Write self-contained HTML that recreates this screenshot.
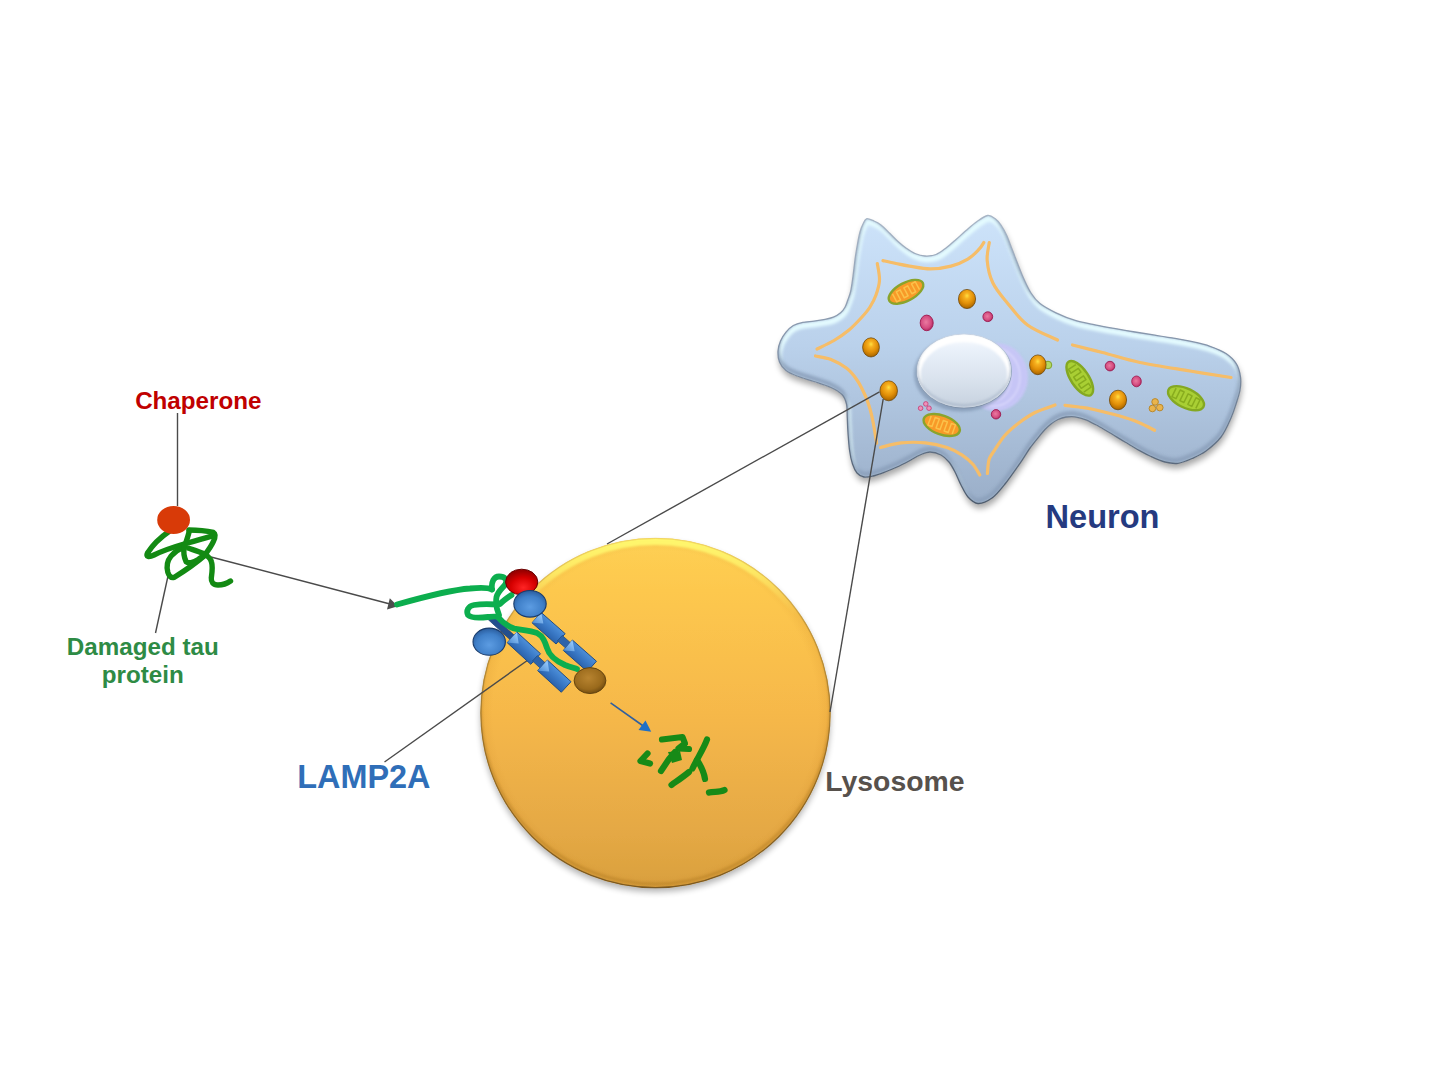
<!DOCTYPE html>
<html><head><meta charset="utf-8">
<style>
html,body{margin:0;padding:0;background:#fff;}
body{width:1440px;height:1080px;overflow:hidden;position:relative;}
svg{position:absolute;left:0;top:0;}
text{font-family:"Liberation Sans",sans-serif;font-weight:bold;}
</style></head><body>
<svg width="1440" height="1080" viewBox="0 0 1440 1080">
<defs>
<linearGradient id="lysoG" x1="0" y1="538" x2="0" y2="888" gradientUnits="userSpaceOnUse">
<stop offset="0" stop-color="#fed053"/>
<stop offset="0.15" stop-color="#fdc84e"/>
<stop offset="0.5" stop-color="#f6b84a"/>
<stop offset="0.85" stop-color="#e4a844"/>
<stop offset="1" stop-color="#d9a03e"/>
</linearGradient>
<linearGradient id="lysoRim" x1="0" y1="538" x2="0" y2="888" gradientUnits="userSpaceOnUse">
<stop offset="0" stop-color="#fff86e" stop-opacity="1"/>
<stop offset="0.1" stop-color="#fff46c" stop-opacity="0.75"/>
<stop offset="0.22" stop-color="#ffe870" stop-opacity="0"/>
<stop offset="1" stop-color="#ffe870" stop-opacity="0"/>
</linearGradient>
<linearGradient id="neuG" x1="0" y1="215" x2="0" y2="505" gradientUnits="userSpaceOnUse">
<stop offset="0" stop-color="#cde3fa"/>
<stop offset="0.45" stop-color="#bad1eb"/>
<stop offset="1" stop-color="#9aaec8"/>
</linearGradient>
<linearGradient id="nucG" x1="0" y1="0" x2="0" y2="1">
<stop offset="0" stop-color="#fbfdff"/>
<stop offset="0.2" stop-color="#eaf1fa"/>
<stop offset="0.6" stop-color="#dae3ee"/>
<stop offset="1" stop-color="#c6d1de"/>
</linearGradient>
<radialGradient id="gold" cx="0.48" cy="0.36" r="0.7" fx="0.5" fy="0.33">
<stop offset="0" stop-color="#ffe040"/>
<stop offset="0.22" stop-color="#f6b020"/>
<stop offset="0.55" stop-color="#e29008"/>
<stop offset="0.82" stop-color="#b87000"/>
<stop offset="1" stop-color="#764600"/>
</radialGradient>
<radialGradient id="pink" cx="0.45" cy="0.45" r="0.6">
<stop offset="0" stop-color="#ea7aa0"/>
<stop offset="0.65" stop-color="#d44c80"/>
<stop offset="1" stop-color="#a82058"/>
</radialGradient>
<radialGradient id="blueS" cx="0.5" cy="0.62" r="0.62">
<stop offset="0" stop-color="#5c9ce2"/>
<stop offset="0.65" stop-color="#3f7fc8"/>
<stop offset="1" stop-color="#2a5c9c"/>
</radialGradient>
<radialGradient id="redS" cx="0.55" cy="0.72" r="0.65">
<stop offset="0" stop-color="#ff2424"/>
<stop offset="0.6" stop-color="#d60000"/>
<stop offset="1" stop-color="#9a0000"/>
</radialGradient>
<radialGradient id="brownS" cx="0.45" cy="0.4" r="0.62">
<stop offset="0" stop-color="#b88430"/>
<stop offset="0.7" stop-color="#9a6a1c"/>
<stop offset="1" stop-color="#6e4a10"/>
</radialGradient>
<linearGradient id="rodG" x1="0" y1="0" x2="0" y2="1">
<stop offset="0" stop-color="#4a8ed6"/>
<stop offset="1" stop-color="#2f6cb6"/>
</linearGradient>
<filter id="shadowN" x="-10%" y="-10%" width="120%" height="130%">
<feGaussianBlur in="SourceAlpha" stdDeviation="3"/>
<feOffset dx="0.5" dy="4.5" result="o"/>
<feComponentTransfer><feFuncA type="linear" slope="0.35"/></feComponentTransfer>
<feMerge><feMergeNode/><feMergeNode in="SourceGraphic"/></feMerge>
</filter>
<filter id="shadowL" x="-10%" y="-10%" width="120%" height="130%">
<feGaussianBlur in="SourceAlpha" stdDeviation="3"/>
<feOffset dx="0" dy="4" result="o"/>
<feComponentTransfer><feFuncA type="linear" slope="0.3"/></feComponentTransfer>
<feMerge><feMergeNode/><feMergeNode in="SourceGraphic"/></feMerge>
</filter>
<radialGradient id="lysoEdge" cx="655.5" cy="713" r="175" gradientUnits="userSpaceOnUse">
<stop offset="0" stop-color="#c07818" stop-opacity="0"/>
<stop offset="0.93" stop-color="#c07818" stop-opacity="0"/>
<stop offset="1" stop-color="#b06a10" stop-opacity="0.12"/>
</radialGradient>
<linearGradient id="neuStroke" x1="0" y1="215" x2="0" y2="505" gradientUnits="userSpaceOnUse">
<stop offset="0" stop-color="#a8b6c6"/>
<stop offset="0.5" stop-color="#8090a6"/>
<stop offset="1" stop-color="#4c5a6c"/>
</linearGradient>
<linearGradient id="nucStroke" x1="0" y1="0" x2="0" y2="1">
<stop offset="0" stop-color="#c8d4e4"/>
<stop offset="0.5" stop-color="#98aac0"/>
<stop offset="1" stop-color="#7e90a8"/>
</linearGradient>
<linearGradient id="lysoStroke" x1="0" y1="538" x2="0" y2="888" gradientUnits="userSpaceOnUse">
<stop offset="0" stop-color="#e8c458" stop-opacity="0.5"/>
<stop offset="0.25" stop-color="#b8903a" stop-opacity="0.8"/>
<stop offset="0.6" stop-color="#98702a"/>
<stop offset="1" stop-color="#7a5820"/>
</linearGradient>
<filter id="blurC"><feGaussianBlur stdDeviation="0.45"/></filter>
<filter id="blur2"><feGaussianBlur stdDeviation="1.6"/></filter>
<filter id="blur1"><feGaussianBlur stdDeviation="0.8"/></filter>
<clipPath id="neuClip"><path d="M866.5 218.8 C868.3 218.3 871.6 220.0 874.0 221.0 C876.4 222.0 878.3 222.9 881.0 225.0 C883.7 227.1 887.2 230.8 890.0 233.5 C892.8 236.2 895.3 239.1 898.0 241.5 C900.7 243.9 903.2 246.0 906.0 248.0 C908.8 250.0 911.8 252.2 915.0 253.5 C918.2 254.8 921.5 255.8 925.0 256.0 C928.5 256.2 932.5 255.8 936.0 254.5 C939.5 253.2 942.7 250.5 946.0 248.0 C949.3 245.5 952.7 242.4 956.0 239.5 C959.3 236.6 962.5 233.5 966.0 230.5 C969.5 227.5 973.4 224.0 977.0 221.5 C980.6 219.0 984.5 216.0 987.5 215.5 C990.5 215.0 992.8 216.9 995.0 218.5 C997.2 220.1 999.0 222.1 1001.0 225.0 C1003.0 227.9 1005.2 232.0 1007.0 236.0 C1008.8 240.0 1010.3 244.7 1012.0 249.0 C1013.7 253.3 1015.2 257.3 1017.0 262.0 C1018.8 266.7 1020.7 271.8 1023.0 277.0 C1025.3 282.2 1028.2 288.6 1031.0 293.0 C1033.8 297.4 1035.8 300.2 1040.0 303.5 C1044.2 306.8 1050.0 309.9 1056.0 312.8 C1062.0 315.7 1069.5 318.7 1076.0 320.7 C1082.5 322.7 1088.4 323.5 1095.0 324.8 C1101.6 326.1 1108.8 327.4 1115.5 328.6 C1122.2 329.8 1128.4 330.9 1135.0 332.0 C1141.6 333.1 1148.3 334.1 1155.0 335.2 C1161.7 336.2 1169.2 337.3 1175.0 338.3 C1180.8 339.3 1184.2 339.9 1190.0 341.2 C1195.8 342.5 1204.0 344.2 1210.0 346.3 C1216.0 348.4 1221.6 350.6 1226.0 353.5 C1230.4 356.4 1234.1 360.1 1236.5 364.0 C1238.9 367.9 1239.9 372.7 1240.5 377.0 C1241.1 381.3 1240.7 385.8 1240.0 390.0 C1239.3 394.2 1238.0 397.8 1236.5 402.5 C1235.0 407.2 1233.6 412.2 1231.0 418.0 C1228.4 423.8 1225.2 431.5 1221.0 437.0 C1216.8 442.5 1210.8 447.4 1206.0 451.0 C1201.2 454.6 1196.7 456.4 1192.0 458.5 C1187.3 460.6 1182.5 462.7 1178.0 463.3 C1173.5 463.9 1169.7 463.2 1165.0 462.0 C1160.3 460.8 1154.4 458.0 1150.0 456.0 C1145.6 454.0 1142.9 452.4 1138.7 450.1 C1134.5 447.8 1129.4 444.6 1125.0 442.0 C1120.6 439.4 1116.6 436.9 1112.3 434.3 C1108.0 431.7 1103.4 428.9 1099.0 426.5 C1094.6 424.1 1090.0 421.4 1086.0 419.8 C1082.0 418.2 1078.3 417.3 1075.0 416.8 C1071.7 416.3 1068.8 416.6 1066.0 417.0 C1063.2 417.4 1060.5 418.3 1058.0 419.5 C1055.5 420.7 1053.2 422.3 1051.0 424.0 C1048.8 425.7 1046.9 427.6 1045.0 429.5 C1043.1 431.4 1042.3 432.5 1039.8 435.6 C1037.3 438.7 1033.2 443.5 1030.0 448.0 C1026.8 452.5 1024.5 456.8 1020.3 462.8 C1016.1 468.8 1009.7 478.1 1005.0 484.0 C1000.3 489.9 996.5 494.8 992.0 498.0 C987.5 501.2 982.0 503.7 978.0 503.5 C974.0 503.3 970.8 500.1 968.0 497.0 C965.2 493.9 963.2 489.2 961.0 485.0 C958.8 480.8 957.0 475.8 955.0 472.0 C953.0 468.2 951.3 464.8 949.0 462.0 C946.7 459.2 944.2 456.7 941.0 455.0 C937.8 453.3 933.5 452.0 930.0 452.0 C926.5 452.0 923.5 453.5 920.0 455.0 C916.5 456.5 912.8 459.0 909.0 461.0 C905.2 463.0 901.0 465.2 897.0 467.0 C893.0 468.8 889.0 470.5 885.0 472.0 C881.0 473.5 876.5 475.2 873.0 476.0 C869.5 476.8 866.7 477.5 864.0 477.0 C861.3 476.5 858.9 475.2 857.0 473.0 C855.1 470.8 853.8 467.8 852.5 464.0 C851.2 460.2 850.2 455.2 849.5 450.0 C848.8 444.8 848.4 438.3 848.0 433.0 C847.6 427.7 847.5 422.8 847.3 418.0 C847.0 413.2 847.4 407.9 846.5 404.0 C845.6 400.1 844.6 397.2 842.0 394.5 C839.4 391.8 835.7 389.7 831.0 387.5 C826.3 385.3 819.7 383.4 814.0 381.5 C808.3 379.6 801.7 377.8 797.0 376.0 C792.3 374.2 788.9 372.8 786.0 370.5 C783.1 368.2 780.8 365.2 779.5 362.0 C778.2 358.8 777.8 354.5 778.0 351.0 C778.2 347.5 779.2 344.1 780.5 341.0 C781.8 337.9 783.9 334.8 786.0 332.2 C788.1 329.6 790.5 327.1 793.3 325.5 C796.1 323.9 799.4 323.1 802.8 322.4 C806.2 321.7 810.2 321.6 813.9 321.1 C817.6 320.6 821.8 320.0 825.0 319.4 C828.2 318.8 830.7 318.3 833.3 317.2 C835.9 316.1 838.6 314.5 840.6 312.8 C842.6 311.1 843.8 309.3 845.0 307.2 C846.2 305.1 846.9 302.5 847.8 300.0 C848.7 297.5 849.7 295.3 850.5 292.0 C851.3 288.7 851.9 284.0 852.5 280.0 C853.1 276.0 853.5 272.0 854.0 268.0 C854.5 264.0 854.9 260.0 855.5 256.0 C856.1 252.0 856.8 248.0 857.5 244.0 C858.2 240.0 859.1 235.3 860.0 232.0 C860.9 228.7 861.9 226.2 863.0 224.0 C864.1 221.8 864.7 219.3 866.5 218.8Z"/></clipPath>
<clipPath id="lysoClip"><circle cx="655.5" cy="713" r="175"/></clipPath>
<marker id="arrGray" viewBox="0 0 10 10" refX="9" refY="5" markerWidth="8" markerHeight="8" orient="auto" markerUnits="userSpaceOnUse">
<path d="M0 0 L10 5 L0 10 Z" fill="#4d4d4d"/>
</marker>
</defs>

<g filter="url(#shadowN)"><path d="M866.5 218.8 C868.3 218.3 871.6 220.0 874.0 221.0 C876.4 222.0 878.3 222.9 881.0 225.0 C883.7 227.1 887.2 230.8 890.0 233.5 C892.8 236.2 895.3 239.1 898.0 241.5 C900.7 243.9 903.2 246.0 906.0 248.0 C908.8 250.0 911.8 252.2 915.0 253.5 C918.2 254.8 921.5 255.8 925.0 256.0 C928.5 256.2 932.5 255.8 936.0 254.5 C939.5 253.2 942.7 250.5 946.0 248.0 C949.3 245.5 952.7 242.4 956.0 239.5 C959.3 236.6 962.5 233.5 966.0 230.5 C969.5 227.5 973.4 224.0 977.0 221.5 C980.6 219.0 984.5 216.0 987.5 215.5 C990.5 215.0 992.8 216.9 995.0 218.5 C997.2 220.1 999.0 222.1 1001.0 225.0 C1003.0 227.9 1005.2 232.0 1007.0 236.0 C1008.8 240.0 1010.3 244.7 1012.0 249.0 C1013.7 253.3 1015.2 257.3 1017.0 262.0 C1018.8 266.7 1020.7 271.8 1023.0 277.0 C1025.3 282.2 1028.2 288.6 1031.0 293.0 C1033.8 297.4 1035.8 300.2 1040.0 303.5 C1044.2 306.8 1050.0 309.9 1056.0 312.8 C1062.0 315.7 1069.5 318.7 1076.0 320.7 C1082.5 322.7 1088.4 323.5 1095.0 324.8 C1101.6 326.1 1108.8 327.4 1115.5 328.6 C1122.2 329.8 1128.4 330.9 1135.0 332.0 C1141.6 333.1 1148.3 334.1 1155.0 335.2 C1161.7 336.2 1169.2 337.3 1175.0 338.3 C1180.8 339.3 1184.2 339.9 1190.0 341.2 C1195.8 342.5 1204.0 344.2 1210.0 346.3 C1216.0 348.4 1221.6 350.6 1226.0 353.5 C1230.4 356.4 1234.1 360.1 1236.5 364.0 C1238.9 367.9 1239.9 372.7 1240.5 377.0 C1241.1 381.3 1240.7 385.8 1240.0 390.0 C1239.3 394.2 1238.0 397.8 1236.5 402.5 C1235.0 407.2 1233.6 412.2 1231.0 418.0 C1228.4 423.8 1225.2 431.5 1221.0 437.0 C1216.8 442.5 1210.8 447.4 1206.0 451.0 C1201.2 454.6 1196.7 456.4 1192.0 458.5 C1187.3 460.6 1182.5 462.7 1178.0 463.3 C1173.5 463.9 1169.7 463.2 1165.0 462.0 C1160.3 460.8 1154.4 458.0 1150.0 456.0 C1145.6 454.0 1142.9 452.4 1138.7 450.1 C1134.5 447.8 1129.4 444.6 1125.0 442.0 C1120.6 439.4 1116.6 436.9 1112.3 434.3 C1108.0 431.7 1103.4 428.9 1099.0 426.5 C1094.6 424.1 1090.0 421.4 1086.0 419.8 C1082.0 418.2 1078.3 417.3 1075.0 416.8 C1071.7 416.3 1068.8 416.6 1066.0 417.0 C1063.2 417.4 1060.5 418.3 1058.0 419.5 C1055.5 420.7 1053.2 422.3 1051.0 424.0 C1048.8 425.7 1046.9 427.6 1045.0 429.5 C1043.1 431.4 1042.3 432.5 1039.8 435.6 C1037.3 438.7 1033.2 443.5 1030.0 448.0 C1026.8 452.5 1024.5 456.8 1020.3 462.8 C1016.1 468.8 1009.7 478.1 1005.0 484.0 C1000.3 489.9 996.5 494.8 992.0 498.0 C987.5 501.2 982.0 503.7 978.0 503.5 C974.0 503.3 970.8 500.1 968.0 497.0 C965.2 493.9 963.2 489.2 961.0 485.0 C958.8 480.8 957.0 475.8 955.0 472.0 C953.0 468.2 951.3 464.8 949.0 462.0 C946.7 459.2 944.2 456.7 941.0 455.0 C937.8 453.3 933.5 452.0 930.0 452.0 C926.5 452.0 923.5 453.5 920.0 455.0 C916.5 456.5 912.8 459.0 909.0 461.0 C905.2 463.0 901.0 465.2 897.0 467.0 C893.0 468.8 889.0 470.5 885.0 472.0 C881.0 473.5 876.5 475.2 873.0 476.0 C869.5 476.8 866.7 477.5 864.0 477.0 C861.3 476.5 858.9 475.2 857.0 473.0 C855.1 470.8 853.8 467.8 852.5 464.0 C851.2 460.2 850.2 455.2 849.5 450.0 C848.8 444.8 848.4 438.3 848.0 433.0 C847.6 427.7 847.5 422.8 847.3 418.0 C847.0 413.2 847.4 407.9 846.5 404.0 C845.6 400.1 844.6 397.2 842.0 394.5 C839.4 391.8 835.7 389.7 831.0 387.5 C826.3 385.3 819.7 383.4 814.0 381.5 C808.3 379.6 801.7 377.8 797.0 376.0 C792.3 374.2 788.9 372.8 786.0 370.5 C783.1 368.2 780.8 365.2 779.5 362.0 C778.2 358.8 777.8 354.5 778.0 351.0 C778.2 347.5 779.2 344.1 780.5 341.0 C781.8 337.9 783.9 334.8 786.0 332.2 C788.1 329.6 790.5 327.1 793.3 325.5 C796.1 323.9 799.4 323.1 802.8 322.4 C806.2 321.7 810.2 321.6 813.9 321.1 C817.6 320.6 821.8 320.0 825.0 319.4 C828.2 318.8 830.7 318.3 833.3 317.2 C835.9 316.1 838.6 314.5 840.6 312.8 C842.6 311.1 843.8 309.3 845.0 307.2 C846.2 305.1 846.9 302.5 847.8 300.0 C848.7 297.5 849.7 295.3 850.5 292.0 C851.3 288.7 851.9 284.0 852.5 280.0 C853.1 276.0 853.5 272.0 854.0 268.0 C854.5 264.0 854.9 260.0 855.5 256.0 C856.1 252.0 856.8 248.0 857.5 244.0 C858.2 240.0 859.1 235.3 860.0 232.0 C860.9 228.7 861.9 226.2 863.0 224.0 C864.1 221.8 864.7 219.3 866.5 218.8Z" fill="url(#neuG)"/></g>
<g clip-path="url(#neuClip)">
<path d="M866.5 218.8 C868.3 218.3 871.6 220.0 874.0 221.0 C876.4 222.0 878.3 222.9 881.0 225.0 C883.7 227.1 887.2 230.8 890.0 233.5 C892.8 236.2 895.3 239.1 898.0 241.5 C900.7 243.9 903.2 246.0 906.0 248.0 C908.8 250.0 911.8 252.2 915.0 253.5 C918.2 254.8 921.5 255.8 925.0 256.0 C928.5 256.2 932.5 255.8 936.0 254.5 C939.5 253.2 942.7 250.5 946.0 248.0 C949.3 245.5 952.7 242.4 956.0 239.5 C959.3 236.6 962.5 233.5 966.0 230.5 C969.5 227.5 973.4 224.0 977.0 221.5 C980.6 219.0 984.5 216.0 987.5 215.5 C990.5 215.0 992.8 216.9 995.0 218.5 C997.2 220.1 999.0 222.1 1001.0 225.0 C1003.0 227.9 1005.2 232.0 1007.0 236.0 C1008.8 240.0 1010.3 244.7 1012.0 249.0 C1013.7 253.3 1015.2 257.3 1017.0 262.0 C1018.8 266.7 1020.7 271.8 1023.0 277.0 C1025.3 282.2 1028.2 288.6 1031.0 293.0 C1033.8 297.4 1035.8 300.2 1040.0 303.5 C1044.2 306.8 1050.0 309.9 1056.0 312.8 C1062.0 315.7 1069.5 318.7 1076.0 320.7 C1082.5 322.7 1088.4 323.5 1095.0 324.8 C1101.6 326.1 1108.8 327.4 1115.5 328.6 C1122.2 329.8 1128.4 330.9 1135.0 332.0 C1141.6 333.1 1148.3 334.1 1155.0 335.2 C1161.7 336.2 1169.2 337.3 1175.0 338.3 C1180.8 339.3 1184.2 339.9 1190.0 341.2 C1195.8 342.5 1204.0 344.2 1210.0 346.3 C1216.0 348.4 1221.6 350.6 1226.0 353.5 C1230.4 356.4 1234.1 360.1 1236.5 364.0 C1238.9 367.9 1239.9 372.7 1240.5 377.0 C1241.1 381.3 1240.7 385.8 1240.0 390.0 C1239.3 394.2 1238.0 397.8 1236.5 402.5 C1235.0 407.2 1233.6 412.2 1231.0 418.0 C1228.4 423.8 1225.2 431.5 1221.0 437.0 C1216.8 442.5 1210.8 447.4 1206.0 451.0 C1201.2 454.6 1196.7 456.4 1192.0 458.5 C1187.3 460.6 1182.5 462.7 1178.0 463.3 C1173.5 463.9 1169.7 463.2 1165.0 462.0 C1160.3 460.8 1154.4 458.0 1150.0 456.0 C1145.6 454.0 1142.9 452.4 1138.7 450.1 C1134.5 447.8 1129.4 444.6 1125.0 442.0 C1120.6 439.4 1116.6 436.9 1112.3 434.3 C1108.0 431.7 1103.4 428.9 1099.0 426.5 C1094.6 424.1 1090.0 421.4 1086.0 419.8 C1082.0 418.2 1078.3 417.3 1075.0 416.8 C1071.7 416.3 1068.8 416.6 1066.0 417.0 C1063.2 417.4 1060.5 418.3 1058.0 419.5 C1055.5 420.7 1053.2 422.3 1051.0 424.0 C1048.8 425.7 1046.9 427.6 1045.0 429.5 C1043.1 431.4 1042.3 432.5 1039.8 435.6 C1037.3 438.7 1033.2 443.5 1030.0 448.0 C1026.8 452.5 1024.5 456.8 1020.3 462.8 C1016.1 468.8 1009.7 478.1 1005.0 484.0 C1000.3 489.9 996.5 494.8 992.0 498.0 C987.5 501.2 982.0 503.7 978.0 503.5 C974.0 503.3 970.8 500.1 968.0 497.0 C965.2 493.9 963.2 489.2 961.0 485.0 C958.8 480.8 957.0 475.8 955.0 472.0 C953.0 468.2 951.3 464.8 949.0 462.0 C946.7 459.2 944.2 456.7 941.0 455.0 C937.8 453.3 933.5 452.0 930.0 452.0 C926.5 452.0 923.5 453.5 920.0 455.0 C916.5 456.5 912.8 459.0 909.0 461.0 C905.2 463.0 901.0 465.2 897.0 467.0 C893.0 468.8 889.0 470.5 885.0 472.0 C881.0 473.5 876.5 475.2 873.0 476.0 C869.5 476.8 866.7 477.5 864.0 477.0 C861.3 476.5 858.9 475.2 857.0 473.0 C855.1 470.8 853.8 467.8 852.5 464.0 C851.2 460.2 850.2 455.2 849.5 450.0 C848.8 444.8 848.4 438.3 848.0 433.0 C847.6 427.7 847.5 422.8 847.3 418.0 C847.0 413.2 847.4 407.9 846.5 404.0 C845.6 400.1 844.6 397.2 842.0 394.5 C839.4 391.8 835.7 389.7 831.0 387.5 C826.3 385.3 819.7 383.4 814.0 381.5 C808.3 379.6 801.7 377.8 797.0 376.0 C792.3 374.2 788.9 372.8 786.0 370.5 C783.1 368.2 780.8 365.2 779.5 362.0 C778.2 358.8 777.8 354.5 778.0 351.0 C778.2 347.5 779.2 344.1 780.5 341.0 C781.8 337.9 783.9 334.8 786.0 332.2 C788.1 329.6 790.5 327.1 793.3 325.5 C796.1 323.9 799.4 323.1 802.8 322.4 C806.2 321.7 810.2 321.6 813.9 321.1 C817.6 320.6 821.8 320.0 825.0 319.4 C828.2 318.8 830.7 318.3 833.3 317.2 C835.9 316.1 838.6 314.5 840.6 312.8 C842.6 311.1 843.8 309.3 845.0 307.2 C846.2 305.1 846.9 302.5 847.8 300.0 C848.7 297.5 849.7 295.3 850.5 292.0 C851.3 288.7 851.9 284.0 852.5 280.0 C853.1 276.0 853.5 272.0 854.0 268.0 C854.5 264.0 854.9 260.0 855.5 256.0 C856.1 252.0 856.8 248.0 857.5 244.0 C858.2 240.0 859.1 235.3 860.0 232.0 C860.9 228.7 861.9 226.2 863.0 224.0 C864.1 221.8 864.7 219.3 866.5 218.8Z" transform="translate(0.8 3.2)" fill="none" stroke="#e4fbff" stroke-width="6" filter="url(#blur2)" opacity="1"/>
<path d="M866.5 218.8 C868.3 218.3 871.6 220.0 874.0 221.0 C876.4 222.0 878.3 222.9 881.0 225.0 C883.7 227.1 887.2 230.8 890.0 233.5 C892.8 236.2 895.3 239.1 898.0 241.5 C900.7 243.9 903.2 246.0 906.0 248.0 C908.8 250.0 911.8 252.2 915.0 253.5 C918.2 254.8 921.5 255.8 925.0 256.0 C928.5 256.2 932.5 255.8 936.0 254.5 C939.5 253.2 942.7 250.5 946.0 248.0 C949.3 245.5 952.7 242.4 956.0 239.5 C959.3 236.6 962.5 233.5 966.0 230.5 C969.5 227.5 973.4 224.0 977.0 221.5 C980.6 219.0 984.5 216.0 987.5 215.5 C990.5 215.0 992.8 216.9 995.0 218.5 C997.2 220.1 999.0 222.1 1001.0 225.0 C1003.0 227.9 1005.2 232.0 1007.0 236.0 C1008.8 240.0 1010.3 244.7 1012.0 249.0 C1013.7 253.3 1015.2 257.3 1017.0 262.0 C1018.8 266.7 1020.7 271.8 1023.0 277.0 C1025.3 282.2 1028.2 288.6 1031.0 293.0 C1033.8 297.4 1035.8 300.2 1040.0 303.5 C1044.2 306.8 1050.0 309.9 1056.0 312.8 C1062.0 315.7 1069.5 318.7 1076.0 320.7 C1082.5 322.7 1088.4 323.5 1095.0 324.8 C1101.6 326.1 1108.8 327.4 1115.5 328.6 C1122.2 329.8 1128.4 330.9 1135.0 332.0 C1141.6 333.1 1148.3 334.1 1155.0 335.2 C1161.7 336.2 1169.2 337.3 1175.0 338.3 C1180.8 339.3 1184.2 339.9 1190.0 341.2 C1195.8 342.5 1204.0 344.2 1210.0 346.3 C1216.0 348.4 1221.6 350.6 1226.0 353.5 C1230.4 356.4 1234.1 360.1 1236.5 364.0 C1238.9 367.9 1239.9 372.7 1240.5 377.0 C1241.1 381.3 1240.7 385.8 1240.0 390.0 C1239.3 394.2 1238.0 397.8 1236.5 402.5 C1235.0 407.2 1233.6 412.2 1231.0 418.0 C1228.4 423.8 1225.2 431.5 1221.0 437.0 C1216.8 442.5 1210.8 447.4 1206.0 451.0 C1201.2 454.6 1196.7 456.4 1192.0 458.5 C1187.3 460.6 1182.5 462.7 1178.0 463.3 C1173.5 463.9 1169.7 463.2 1165.0 462.0 C1160.3 460.8 1154.4 458.0 1150.0 456.0 C1145.6 454.0 1142.9 452.4 1138.7 450.1 C1134.5 447.8 1129.4 444.6 1125.0 442.0 C1120.6 439.4 1116.6 436.9 1112.3 434.3 C1108.0 431.7 1103.4 428.9 1099.0 426.5 C1094.6 424.1 1090.0 421.4 1086.0 419.8 C1082.0 418.2 1078.3 417.3 1075.0 416.8 C1071.7 416.3 1068.8 416.6 1066.0 417.0 C1063.2 417.4 1060.5 418.3 1058.0 419.5 C1055.5 420.7 1053.2 422.3 1051.0 424.0 C1048.8 425.7 1046.9 427.6 1045.0 429.5 C1043.1 431.4 1042.3 432.5 1039.8 435.6 C1037.3 438.7 1033.2 443.5 1030.0 448.0 C1026.8 452.5 1024.5 456.8 1020.3 462.8 C1016.1 468.8 1009.7 478.1 1005.0 484.0 C1000.3 489.9 996.5 494.8 992.0 498.0 C987.5 501.2 982.0 503.7 978.0 503.5 C974.0 503.3 970.8 500.1 968.0 497.0 C965.2 493.9 963.2 489.2 961.0 485.0 C958.8 480.8 957.0 475.8 955.0 472.0 C953.0 468.2 951.3 464.8 949.0 462.0 C946.7 459.2 944.2 456.7 941.0 455.0 C937.8 453.3 933.5 452.0 930.0 452.0 C926.5 452.0 923.5 453.5 920.0 455.0 C916.5 456.5 912.8 459.0 909.0 461.0 C905.2 463.0 901.0 465.2 897.0 467.0 C893.0 468.8 889.0 470.5 885.0 472.0 C881.0 473.5 876.5 475.2 873.0 476.0 C869.5 476.8 866.7 477.5 864.0 477.0 C861.3 476.5 858.9 475.2 857.0 473.0 C855.1 470.8 853.8 467.8 852.5 464.0 C851.2 460.2 850.2 455.2 849.5 450.0 C848.8 444.8 848.4 438.3 848.0 433.0 C847.6 427.7 847.5 422.8 847.3 418.0 C847.0 413.2 847.4 407.9 846.5 404.0 C845.6 400.1 844.6 397.2 842.0 394.5 C839.4 391.8 835.7 389.7 831.0 387.5 C826.3 385.3 819.7 383.4 814.0 381.5 C808.3 379.6 801.7 377.8 797.0 376.0 C792.3 374.2 788.9 372.8 786.0 370.5 C783.1 368.2 780.8 365.2 779.5 362.0 C778.2 358.8 777.8 354.5 778.0 351.0 C778.2 347.5 779.2 344.1 780.5 341.0 C781.8 337.9 783.9 334.8 786.0 332.2 C788.1 329.6 790.5 327.1 793.3 325.5 C796.1 323.9 799.4 323.1 802.8 322.4 C806.2 321.7 810.2 321.6 813.9 321.1 C817.6 320.6 821.8 320.0 825.0 319.4 C828.2 318.8 830.7 318.3 833.3 317.2 C835.9 316.1 838.6 314.5 840.6 312.8 C842.6 311.1 843.8 309.3 845.0 307.2 C846.2 305.1 846.9 302.5 847.8 300.0 C848.7 297.5 849.7 295.3 850.5 292.0 C851.3 288.7 851.9 284.0 852.5 280.0 C853.1 276.0 853.5 272.0 854.0 268.0 C854.5 264.0 854.9 260.0 855.5 256.0 C856.1 252.0 856.8 248.0 857.5 244.0 C858.2 240.0 859.1 235.3 860.0 232.0 C860.9 228.7 861.9 226.2 863.0 224.0 C864.1 221.8 864.7 219.3 866.5 218.8Z" transform="translate(-0.6 -3)" fill="none" stroke="#8a9fba" stroke-width="5" filter="url(#blur2)" opacity="0.85"/>
</g>
<path d="M866.5 218.8 C868.3 218.3 871.6 220.0 874.0 221.0 C876.4 222.0 878.3 222.9 881.0 225.0 C883.7 227.1 887.2 230.8 890.0 233.5 C892.8 236.2 895.3 239.1 898.0 241.5 C900.7 243.9 903.2 246.0 906.0 248.0 C908.8 250.0 911.8 252.2 915.0 253.5 C918.2 254.8 921.5 255.8 925.0 256.0 C928.5 256.2 932.5 255.8 936.0 254.5 C939.5 253.2 942.7 250.5 946.0 248.0 C949.3 245.5 952.7 242.4 956.0 239.5 C959.3 236.6 962.5 233.5 966.0 230.5 C969.5 227.5 973.4 224.0 977.0 221.5 C980.6 219.0 984.5 216.0 987.5 215.5 C990.5 215.0 992.8 216.9 995.0 218.5 C997.2 220.1 999.0 222.1 1001.0 225.0 C1003.0 227.9 1005.2 232.0 1007.0 236.0 C1008.8 240.0 1010.3 244.7 1012.0 249.0 C1013.7 253.3 1015.2 257.3 1017.0 262.0 C1018.8 266.7 1020.7 271.8 1023.0 277.0 C1025.3 282.2 1028.2 288.6 1031.0 293.0 C1033.8 297.4 1035.8 300.2 1040.0 303.5 C1044.2 306.8 1050.0 309.9 1056.0 312.8 C1062.0 315.7 1069.5 318.7 1076.0 320.7 C1082.5 322.7 1088.4 323.5 1095.0 324.8 C1101.6 326.1 1108.8 327.4 1115.5 328.6 C1122.2 329.8 1128.4 330.9 1135.0 332.0 C1141.6 333.1 1148.3 334.1 1155.0 335.2 C1161.7 336.2 1169.2 337.3 1175.0 338.3 C1180.8 339.3 1184.2 339.9 1190.0 341.2 C1195.8 342.5 1204.0 344.2 1210.0 346.3 C1216.0 348.4 1221.6 350.6 1226.0 353.5 C1230.4 356.4 1234.1 360.1 1236.5 364.0 C1238.9 367.9 1239.9 372.7 1240.5 377.0 C1241.1 381.3 1240.7 385.8 1240.0 390.0 C1239.3 394.2 1238.0 397.8 1236.5 402.5 C1235.0 407.2 1233.6 412.2 1231.0 418.0 C1228.4 423.8 1225.2 431.5 1221.0 437.0 C1216.8 442.5 1210.8 447.4 1206.0 451.0 C1201.2 454.6 1196.7 456.4 1192.0 458.5 C1187.3 460.6 1182.5 462.7 1178.0 463.3 C1173.5 463.9 1169.7 463.2 1165.0 462.0 C1160.3 460.8 1154.4 458.0 1150.0 456.0 C1145.6 454.0 1142.9 452.4 1138.7 450.1 C1134.5 447.8 1129.4 444.6 1125.0 442.0 C1120.6 439.4 1116.6 436.9 1112.3 434.3 C1108.0 431.7 1103.4 428.9 1099.0 426.5 C1094.6 424.1 1090.0 421.4 1086.0 419.8 C1082.0 418.2 1078.3 417.3 1075.0 416.8 C1071.7 416.3 1068.8 416.6 1066.0 417.0 C1063.2 417.4 1060.5 418.3 1058.0 419.5 C1055.5 420.7 1053.2 422.3 1051.0 424.0 C1048.8 425.7 1046.9 427.6 1045.0 429.5 C1043.1 431.4 1042.3 432.5 1039.8 435.6 C1037.3 438.7 1033.2 443.5 1030.0 448.0 C1026.8 452.5 1024.5 456.8 1020.3 462.8 C1016.1 468.8 1009.7 478.1 1005.0 484.0 C1000.3 489.9 996.5 494.8 992.0 498.0 C987.5 501.2 982.0 503.7 978.0 503.5 C974.0 503.3 970.8 500.1 968.0 497.0 C965.2 493.9 963.2 489.2 961.0 485.0 C958.8 480.8 957.0 475.8 955.0 472.0 C953.0 468.2 951.3 464.8 949.0 462.0 C946.7 459.2 944.2 456.7 941.0 455.0 C937.8 453.3 933.5 452.0 930.0 452.0 C926.5 452.0 923.5 453.5 920.0 455.0 C916.5 456.5 912.8 459.0 909.0 461.0 C905.2 463.0 901.0 465.2 897.0 467.0 C893.0 468.8 889.0 470.5 885.0 472.0 C881.0 473.5 876.5 475.2 873.0 476.0 C869.5 476.8 866.7 477.5 864.0 477.0 C861.3 476.5 858.9 475.2 857.0 473.0 C855.1 470.8 853.8 467.8 852.5 464.0 C851.2 460.2 850.2 455.2 849.5 450.0 C848.8 444.8 848.4 438.3 848.0 433.0 C847.6 427.7 847.5 422.8 847.3 418.0 C847.0 413.2 847.4 407.9 846.5 404.0 C845.6 400.1 844.6 397.2 842.0 394.5 C839.4 391.8 835.7 389.7 831.0 387.5 C826.3 385.3 819.7 383.4 814.0 381.5 C808.3 379.6 801.7 377.8 797.0 376.0 C792.3 374.2 788.9 372.8 786.0 370.5 C783.1 368.2 780.8 365.2 779.5 362.0 C778.2 358.8 777.8 354.5 778.0 351.0 C778.2 347.5 779.2 344.1 780.5 341.0 C781.8 337.9 783.9 334.8 786.0 332.2 C788.1 329.6 790.5 327.1 793.3 325.5 C796.1 323.9 799.4 323.1 802.8 322.4 C806.2 321.7 810.2 321.6 813.9 321.1 C817.6 320.6 821.8 320.0 825.0 319.4 C828.2 318.8 830.7 318.3 833.3 317.2 C835.9 316.1 838.6 314.5 840.6 312.8 C842.6 311.1 843.8 309.3 845.0 307.2 C846.2 305.1 846.9 302.5 847.8 300.0 C848.7 297.5 849.7 295.3 850.5 292.0 C851.3 288.7 851.9 284.0 852.5 280.0 C853.1 276.0 853.5 272.0 854.0 268.0 C854.5 264.0 854.9 260.0 855.5 256.0 C856.1 252.0 856.8 248.0 857.5 244.0 C858.2 240.0 859.1 235.3 860.0 232.0 C860.9 228.7 861.9 226.2 863.0 224.0 C864.1 221.8 864.7 219.3 866.5 218.8Z" fill="none" stroke="url(#neuStroke)" stroke-width="1.3"/>
<g fill="none" stroke="#f6bd68" stroke-width="3.2" stroke-linecap="round" stroke-linejoin="round" filter="url(#blurC)">
<path d="M883.0 260.6 C885.2 261.1 891.6 262.6 896.0 263.5 C900.4 264.4 903.7 265.2 909.4 266.1 C915.1 267.0 923.3 268.9 930.3 268.9 C937.2 268.9 944.9 267.7 951.1 266.1 C957.4 264.5 963.2 262.0 967.8 259.2 C972.4 256.4 976.2 252.2 978.9 249.4 C981.6 246.6 983.0 243.7 983.8 242.5"/>
<path d="M877.3 263.5 C877.7 266.2 879.7 274.8 879.5 280.0 C879.3 285.2 877.6 290.5 876.0 295.0 C874.4 299.5 872.3 303.3 870.0 307.0 C867.7 310.7 865.5 313.2 862.0 317.0 C858.5 320.8 853.7 326.1 849.0 330.0 C844.3 333.9 839.3 337.3 834.0 340.5 C828.7 343.7 819.8 347.6 817.0 349.0"/>
<path d="M815.5 356.0 C818.1 356.6 825.8 357.4 831.0 359.5 C836.2 361.6 842.4 364.9 846.7 368.3 C851.0 371.7 854.0 375.6 857.0 380.0 C860.0 384.4 862.8 390.2 865.0 395.0 C867.2 399.8 868.6 404.3 870.0 409.0 C871.4 413.7 872.2 417.6 873.3 423.3 C874.4 429.0 876.1 440.0 876.7 443.3"/>
<path d="M880.5 447.5 C883.9 446.7 893.6 443.7 901.1 442.9 C908.6 442.1 918.0 442.1 925.6 442.9 C933.2 443.7 940.9 445.5 947.0 447.5 C953.1 449.5 957.9 452.3 962.2 455.1 C966.5 457.9 970.0 461.0 972.9 464.3 C975.8 467.6 978.6 473.2 979.8 475.0"/>
<path d="M987.4 473.5 C987.7 471.2 987.9 463.5 989.0 459.7 C990.1 455.9 991.6 454.7 994.3 450.6 C997.0 446.5 1000.9 439.9 1005.0 435.3 C1009.1 430.7 1013.8 426.8 1018.8 423.0 C1023.8 419.2 1029.0 415.5 1035.0 412.5 C1041.0 409.5 1051.7 406.2 1055.0 405.0"/>
<path d="M1065.0 405.3 C1067.3 405.6 1074.4 406.4 1079.0 407.0 C1083.6 407.6 1085.9 407.7 1092.6 409.2 C1099.2 410.7 1111.2 413.6 1118.9 415.8 C1126.6 418.0 1132.8 420.0 1138.7 422.4 C1144.7 424.8 1151.9 429.0 1154.6 430.3"/>
<path d="M1072.5 345.0 C1077.5 346.2 1091.2 349.6 1102.5 352.5 C1113.8 355.4 1125.4 359.4 1140.0 362.5 C1154.6 365.6 1174.8 368.5 1190.0 371.0 C1205.2 373.5 1224.2 376.4 1231.0 377.5"/>
<path d="M989.3 242.5 C988.9 245.5 986.6 253.9 987.2 260.6 C987.8 267.3 989.5 275.9 992.8 282.8 C996.0 289.7 1000.9 295.2 1006.7 302.2 C1012.5 309.2 1019.0 318.7 1027.5 325.0 C1036.0 331.3 1052.5 337.5 1057.5 340.0"/>
</g>
<g clip-path="url(#neuClip)">
<ellipse cx="996" cy="377" rx="32" ry="34" fill="#c8c6f7" opacity="0.95" filter="url(#blur1)"/>
<g fill="none" stroke="#dcdafc" stroke-width="1.3" filter="url(#blur1)">
<ellipse cx="994" cy="377" rx="26" ry="29"/>
<ellipse cx="991" cy="377" rx="20" ry="25"/>
<ellipse cx="988" cy="377" rx="14" ry="22"/>
</g></g>
<ellipse cx="962" cy="374" rx="48" ry="37.5" fill="#6f84a0" opacity="0.55" filter="url(#blur2)"/>
<ellipse cx="964" cy="371" rx="47.4" ry="37" fill="url(#nucG)" stroke="url(#nucStroke)" stroke-width="1.1"/>
<clipPath id="nucClip"><ellipse cx="964" cy="371" rx="47" ry="36.6"/></clipPath>
<g clip-path="url(#nucClip)">
<ellipse cx="964" cy="375" rx="47.4" ry="37" fill="none" stroke="#ffffff" stroke-width="8" filter="url(#blur1)"/>
<ellipse cx="964" cy="368.5" rx="47.4" ry="37" fill="none" stroke="#aab8ca" stroke-width="3" opacity="0.7" filter="url(#blur1)"/>
</g>
<g transform="translate(906 291.8) rotate(-28)"><ellipse rx="19" ry="9" fill="#f89a28" stroke="#8aa42c" stroke-width="2.4"/><path d="M-12.9 -4.5 L-12.9 4.5 L-8.6 4.5 L-8.6 -4.5 L-4.3 -4.5 L-4.3 4.5 L0.0 4.5 L0.0 -4.5 L4.3 -4.5 L4.3 4.5 L8.6 4.5 L8.6 -4.5 L12.9 -4.5 L12.9 4.5" stroke="#fbc24a" stroke-width="1.5" fill="none" stroke-linejoin="round"/></g>
<g transform="translate(941.7 425) rotate(20)"><ellipse rx="19" ry="9.5" fill="#f89a28" stroke="#8aa42c" stroke-width="2.4"/><path d="M-12.9 -4.8 L-12.9 4.8 L-8.6 4.8 L-8.6 -4.8 L-4.3 -4.8 L-4.3 4.8 L0.0 4.8 L0.0 -4.8 L4.3 -4.8 L4.3 4.8 L8.6 4.8 L8.6 -4.8 L12.9 -4.8 L12.9 4.8" stroke="#fbc24a" stroke-width="1.5" fill="none" stroke-linejoin="round"/></g>
<g transform="translate(1079.8 378.3) rotate(56)"><ellipse rx="20" ry="8.8" fill="#a9cf34" stroke="#84a822" stroke-width="2.4"/><path d="M-13.6 -4.4 L-13.6 4.4 L-9.1 4.4 L-9.1 -4.4 L-4.5 -4.4 L-4.5 4.4 L0.0 4.4 L0.0 -4.4 L4.5 -4.4 L4.5 4.4 L9.1 4.4 L9.1 -4.4 L13.6 -4.4 L13.6 4.4" stroke="#88ac1e" stroke-width="1.5" fill="none" stroke-linejoin="round"/></g>
<g transform="translate(1186 398.2) rotate(26)"><ellipse rx="19.5" ry="9.5" fill="#a9cf34" stroke="#84a822" stroke-width="2.4"/><path d="M-13.3 -4.8 L-13.3 4.8 L-8.8 4.8 L-8.8 -4.8 L-4.4 -4.8 L-4.4 4.8 L0.0 4.8 L0.0 -4.8 L4.4 -4.8 L4.4 4.8 L8.8 4.8 L8.8 -4.8 L13.3 -4.8 L13.3 4.8" stroke="#88ac1e" stroke-width="1.5" fill="none" stroke-linejoin="round"/></g>
<ellipse cx="926.7" cy="322.9" rx="6.5" ry="7.8" fill="url(#pink)" stroke="#a32458" stroke-width="1"/>
<circle cx="987.8" cy="316.7" r="4.9" fill="url(#pink)" stroke="#9c1c50" stroke-width="0.9"/>
<circle cx="996" cy="414.3" r="4.7" fill="url(#pink)" stroke="#9c1c50" stroke-width="0.9"/>
<circle cx="1110" cy="366.1" r="4.8" fill="url(#pink)" stroke="#9c1c50" stroke-width="0.9"/>
<ellipse cx="1136.5" cy="381.4" rx="4.8" ry="5.4" fill="url(#pink)" stroke="#a32458" stroke-width="0.9"/>
<g fill="#f090b8" stroke="#c03a74" stroke-width="0.8"><circle cx="920.6" cy="408.2" r="2.3"/><circle cx="925.8" cy="403.9" r="2.3"/><circle cx="929" cy="408.2" r="2.3"/></g>
<g fill="#eab44c" stroke="#b8892e" stroke-width="1"><circle cx="1155.1" cy="401.9" r="3.3"/><circle cx="1152.4" cy="408.5" r="3.3"/><circle cx="1159.8" cy="407.6" r="3.3"/></g>
<circle cx="1048" cy="365" r="3.8" fill="#b4d860" stroke="#7ea22a" stroke-width="1"/>
<ellipse cx="967" cy="299" rx="8.6" ry="9.6" fill="url(#gold)" stroke="#6a4000" stroke-width="0.7"/>
<ellipse cx="871" cy="347.4" rx="8.4" ry="9.6" fill="url(#gold)" stroke="#6a4000" stroke-width="0.7"/>
<ellipse cx="888.7" cy="390.8" rx="8.8" ry="10" fill="url(#gold)" stroke="#6a4000" stroke-width="0.7"/>
<ellipse cx="1037.8" cy="364.8" rx="8.3" ry="9.9" fill="url(#gold)" stroke="#6a4000" stroke-width="0.7"/>
<ellipse cx="1118" cy="400" rx="8.6" ry="9.8" fill="url(#gold)" stroke="#6a4000" stroke-width="0.7"/>
<g filter="url(#shadowL)"><circle cx="655.5" cy="713" r="175" fill="url(#lysoG)"/></g>
<circle cx="655.5" cy="713" r="175" fill="url(#lysoEdge)"/>
<g clip-path="url(#lysoClip)">
<circle cx="655.5" cy="716" r="175" fill="none" stroke="url(#lysoRim)" stroke-width="8" filter="url(#blur1)"/>
<circle cx="655.5" cy="709" r="175" fill="none" stroke="#b07a22" stroke-width="3" opacity="0.45" filter="url(#blur1)"/>
</g>
<circle cx="655.5" cy="713" r="174.6" fill="none" stroke="url(#lysoStroke)" stroke-width="1.2"/>
<!-- connecting lines -->
<g stroke="#4a4a4a" stroke-width="1.4" fill="none">
<line x1="607" y1="544" x2="879.5" y2="391.8"/>
<line x1="830" y1="712" x2="883.2" y2="399"/>
<line x1="177.5" y1="413" x2="177.5" y2="506"/>
<line x1="168" y1="576" x2="155.5" y2="633"/>
<line x1="528" y1="660" x2="384.5" y2="762"/>
<line x1="211" y1="557" x2="390" y2="604"/>
</g>
<path d="M389.8 598.3 L397.8 606.2 L387 609.4 Z" fill="#4d4d4d"/>

<!-- chaperone + tau at left -->
<g fill="none" stroke="#138a13" stroke-width="5.4" stroke-linecap="round" stroke-linejoin="round">
<path d="M169 531.5 C161 537 152 546 147.5 553 C145.5 557 149 557.5 154 555 C162 551 172 547.5 184 544 C195 541 204 538.5 211.7 536.1"/>
<path d="M188.9 530 C197 530 207 531 213.5 532.5 C216 534 215 538 213.3 541.7 C211 547 207 552 203.9 556.1 C197 562 186 570 174.4 577.2 C171 578.5 169 576 167.8 572.2 C166.5 567 167 561 171 556.1 C174 552.5 179 549 183.3 547.2"/>
<path d="M189.4 530.6 C188 537 185.5 543 184.4 547.2 C183.5 551 183.5 556 186.1 561.7 C188 563.5 193 563 198.3 559.4 C201 557.5 203 556 205 555"/>
<path d="M188.9 548.3 C194 550 199 551.5 203.5 553.5 C208 556 210.5 558 211.5 562 C213 567 212 573 211.3 577.8 C211 582 213 585 218 585 C222 585 227 583.5 230.5 581"/>
</g>

<ellipse cx="173.6" cy="520" rx="16.4" ry="14" fill="#d83a08"/>
<!-- LAMP2A complex -->
<defs>
<linearGradient id="rodG2" x1="0" y1="-7" x2="0" y2="7" gradientUnits="userSpaceOnUse">
<stop offset="0" stop-color="#4d8fd8"/>
<stop offset="0.5" stop-color="#3a79c6"/>
<stop offset="1" stop-color="#2b63ac"/>
</linearGradient>
<linearGradient id="capG" x1="0" y1="-7" x2="0" y2="7" gradientUnits="userSpaceOnUse">
<stop offset="0" stop-color="#9fd0ff"/>
<stop offset="1" stop-color="#4a8ad2"/>
</linearGradient>
</defs>
<!-- chain 2 (left/lower) -->
<g transform="translate(523.85 648.2) rotate(42.5)">
<rect x="-46" y="-3" width="32" height="6" fill="#234f8e" stroke="#1a3f74" stroke-width="0.7"/>
<rect x="-16" y="-7.2" width="32" height="14.4" fill="url(#rodG2)" stroke="#1d4a84" stroke-width="0.9"/>
<path d="M-16 -7.2 L-7 0 L-16 7.2 Z" fill="url(#capG)"/>
<rect x="15" y="-3.6" width="12" height="7.2" fill="#2d64aa" stroke="#1d4a84" stroke-width="0.7"/>
<rect x="25.4" y="-7.2" width="32" height="14.4" fill="url(#rodG2)" stroke="#1d4a84" stroke-width="0.9"/>
<path d="M25.4 -7.2 L34.4 0 L25.4 7.2 Z" fill="url(#capG)"/>
</g>
<!-- chain 1 (right/upper) -->
<g transform="translate(548.6 628.25) rotate(41.4)">
<rect x="-16" y="-6.9" width="32" height="13.8" fill="url(#rodG2)" stroke="#1d4a84" stroke-width="0.9"/>
<path d="M-16 -6.9 L-7 0 L-16 6.9 Z" fill="url(#capG)"/>
<rect x="15" y="-3.6" width="12" height="7.2" fill="#2d64aa" stroke="#1d4a84" stroke-width="0.7"/>
<rect x="25.7" y="-6.9" width="32" height="13.8" fill="url(#rodG2)" stroke="#1d4a84" stroke-width="0.9"/>
<path d="M25.7 -6.9 L34.7 0 L25.7 6.9 Z" fill="url(#capG)"/>
</g>
<!-- green strand -->
<g fill="none" stroke="#0cae4e" stroke-width="5.8" stroke-linecap="round" stroke-linejoin="round">
<path d="M397 604.5 C420 598 450 590 470 588.5 C480 587.5 488 587.5 492 589.5"/>
<path d="M492 589.5 C491 582 494 576.5 499 576.5 C505 576.5 507.5 580 505.5 584 C503 588 498 591 496.5 597 C495.5 603 497 610 499 615"/>
<path d="M511.5 595 C507 598 503 601 500 604"/>
<path d="M497 604.5 C490 604 480 604 474 605 C468 606 466 611 468 615 C471 618 480 618 488 617 C493 616.5 496 616 498 617"/>
<path d="M498 617 C502 622 507 626 514 628.5 C521 630 530 630.5 537 633 C543 636 545 642 547 648 C549 655 556 661 565 665 C570 667 574 668 577 669"/>
</g>
<ellipse cx="521.7" cy="582" rx="16.1" ry="12.8" fill="url(#redS)" stroke="#6a0000" stroke-width="1"/>
<ellipse cx="530" cy="603.8" rx="16.2" ry="13.3" fill="url(#blueS)" stroke="#1a3c6c" stroke-width="1.1"/>
<ellipse cx="489.2" cy="641.7" rx="16.2" ry="13.6" fill="url(#blueS)" stroke="#1a3c6c" stroke-width="1.1"/>
<ellipse cx="590" cy="680.6" rx="15.9" ry="13" fill="url(#brownS)" stroke="#5e3e0c" stroke-width="0.9"/>


<!-- arrow into lysosome -->
<line x1="610.6" y1="702.8" x2="644" y2="726.5" stroke="#2f5f9f" stroke-width="1.6"/>
<path d="M638.5 730 L651.2 731.8 L645.5 720.5 Z" fill="#1f70c8"/>

<!-- degraded fragments -->
<g fill="none" stroke="#178a17" stroke-width="6.2" stroke-linecap="round" stroke-linejoin="round">
<path d="M647.5 753.5 L640.5 761 L650 763.5"/>
<path d="M662 739.5 L682.5 737 L685 743.5 L678.5 748.5 L689 749"/>
<path d="M675 752 L669 759 L661 771"/>
<path d="M707 739.5 C704 748 698 757 692.5 768.5"/>
<path d="M689 772 C683 777 677 781 671.5 785"/>
<path d="M697 760 C701 766 704 772 705 779"/>
<path d="M709 792.5 C714 791 719 793 724.5 790"/>
</g>
<path d="M668 752 L680 751 L682 760 L672 763 Z" fill="#178a17"/>

<!-- labels -->
<text x="198.3" y="408.7" font-size="24.2" fill="#c00000" text-anchor="middle">Chaperone</text>
<text x="142.8" y="654.5" font-size="24.2" fill="#2e8b45" text-anchor="middle">Damaged tau</text>
<text x="142.8" y="683.4" font-size="24.2" fill="#2e8b45" text-anchor="middle">protein</text>
<text x="297.3" y="787.8" font-size="32.4" fill="#2f6eb8">LAMP2A</text>
<text x="825.2" y="791.1" font-size="28.4" fill="#57514c">Lysosome</text>
<text x="1045.5" y="527.6" font-size="32.6" fill="#253a80">Neuron</text>
</svg>
</body></html>
